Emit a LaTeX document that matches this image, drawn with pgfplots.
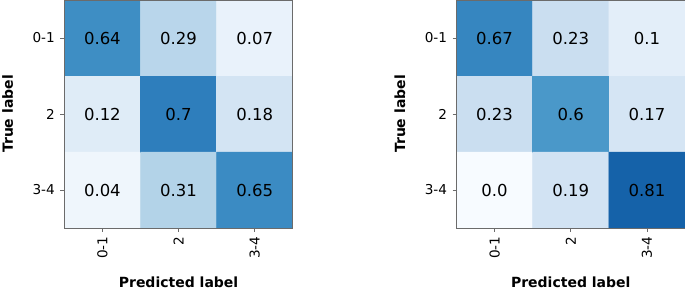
\documentclass[border=0pt]{standalone}
\usepackage{pgfplots}
\pgfplotsset{compat=1.18}
\usepackage{fontspec}
\setmainfont{DejaVu Sans}
\definecolor{framecol}{gray}{0.42}
\pgfplotsset{
  cmstyle/.style={
    scale only axis, width=228.5bp, height=228bp,
    xmin=-0.5, xmax=2.5, ymin=-0.5, ymax=2.5, y dir=reverse,
    xtick={0,1,2}, ytick={0,1,2},
    xticklabels={0-1,2,3-4}, yticklabels={0-1,2,3-4},
    tick align=outside, major tick length=3.8bp,
    tick style={framecol, line width=0.8bp},
    xtick pos=bottom, ytick pos=left,
    axis line style={framecol, line width=0.9bp},
    ticklabel style={font=\fontsize{13.6bp}{15bp}\selectfont, inner sep=0pt},
    xticklabel style={rotate=90, anchor=east},
    xticklabel shift=4.5bp, yticklabel shift=5.5bp,
    label style={font=\fontsize{14bp}{16bp}\selectfont\bfseries},
    xlabel={Predicted label}, ylabel={True label},
    xlabel style={at={([yshift=-59.5bp]axis description cs:0.5,0)}, anchor=base, inner sep=0pt},
    ylabel style={at={([xshift=-51.5bp]axis description cs:0,0.5)}, anchor=base, inner sep=0pt},
    colormap={blues}{rgb255=(247,251,255) rgb255=(222,235,247) rgb255=(198,219,239) rgb255=(158,202,225) rgb255=(107,174,214) rgb255=(66,146,198) rgb255=(33,113,181) rgb255=(8,81,156) rgb255=(8,48,107)},
    point meta min=0, point meta max=1,
    axis on top,
  },
  celltext/.style={only marks, mark=none, nodes near coords,
    point meta=explicit symbolic,
    nodes near coords style={anchor=center, text=black, font=\fontsize{16.5bp}{18bp}\selectfont}},
}
\begin{document}
\begin{tikzpicture}
\begin{axis}[cmstyle, at={(64.3bp,62bp)}, anchor=south west]
\addplot[matrix plot*, mesh/cols=3, point meta=explicit] table[meta=c] {
x y c
0 0 0.64
1 0 0.29
2 0 0.07
0 1 0.12
1 1 0.70
2 1 0.18
0 2 0.04
1 2 0.31
2 2 0.65
};
\addplot[celltext] table[meta=t] {
x y t
0 0 0.64
1 0 0.29
2 0 0.07
0 1 0.12
1 1 0.7
2 1 0.18
0 2 0.04
1 2 0.31
2 2 0.65
};
\end{axis}
\begin{axis}[cmstyle, at={(456.5bp,62bp)}, anchor=south west]
\addplot[matrix plot*, mesh/cols=3, point meta=explicit] table[meta=c] {
x y c
0 0 0.67
1 0 0.23
2 0 0.10
0 1 0.23
1 1 0.60
2 1 0.17
0 2 0.00
1 2 0.19
2 2 0.81
};
\addplot[celltext] table[meta=t] {
x y t
0 0 0.67
1 0 0.23
2 0 0.1
0 1 0.23
1 1 0.6
2 1 0.17
0 2 0.0
1 2 0.19
2 2 0.81
};
\end{axis}
\pgfresetboundingbox
\path[use as bounding box] (0,0) rectangle (685bp,290bp);
\end{tikzpicture}
\end{document}
